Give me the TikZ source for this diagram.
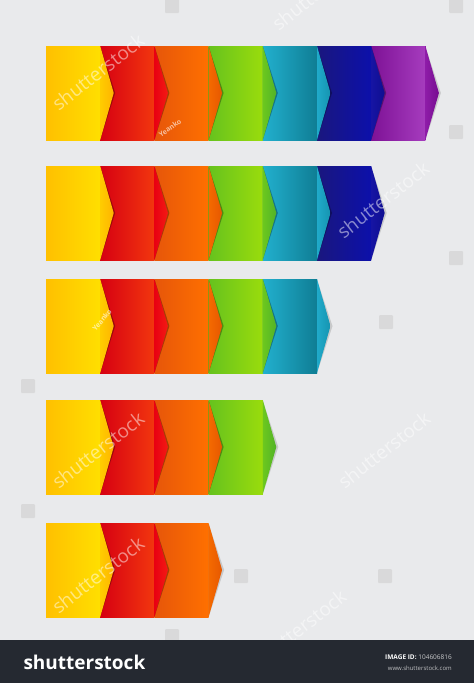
\documentclass[tikz,border=0pt]{standalone}
\usepackage{fontspec}
\setmainfont{Open Sans}
\definecolor{bg}{HTML}{E9EAEC}
\definecolor{foot}{HTML}{252931}
\definecolor{c1L}{HTML}{FFC000}\definecolor{c1R}{HTML}{FFDF00}\definecolor{c1A}{HTML}{FFCC00}\definecolor{c1B}{HTML}{FFB400}
\definecolor{c2L}{HTML}{D60012}\definecolor{c2R}{HTML}{F2360E}\definecolor{c2A}{HTML}{E80012}\definecolor{c2B}{HTML}{F51A14}
\definecolor{c3L}{HTML}{E6560A}\definecolor{c3R}{HTML}{FF7000}\definecolor{c3A}{HTML}{F56A00}\definecolor{c3B}{HTML}{E65800}
\definecolor{c4L}{HTML}{66C21E}\definecolor{c4R}{HTML}{9ADC0C}\definecolor{c4A}{HTML}{6CC81E}\definecolor{c4B}{HTML}{52B228}
\definecolor{c5L}{HTML}{22B0CE}\definecolor{c5R}{HTML}{0F7D94}\definecolor{c5A}{HTML}{20AACA}\definecolor{c5B}{HTML}{1594B0}
\definecolor{c6L}{HTML}{1A177E}\definecolor{c6R}{HTML}{0C10AA}\definecolor{c6A}{HTML}{1614A4}\definecolor{c6B}{HTML}{0E0E90}
\definecolor{c7L}{HTML}{7E1296}\definecolor{c7R}{HTML}{A63CBE}\definecolor{c7A}{HTML}{8E1CA8}\definecolor{c7B}{HTML}{760C90}
\tikzset{
  wmark/.style={text=white, opacity=.5, rotate=38, font=\fontsize{19}{19}\selectfont},
  wsmall/.style={text=white, opacity=.6, rotate=35, font=\bfseries\fontsize{7}{7}\selectfont},
  icon/.style={fill=gray!45, opacity=.45, rounded corners=1pt},
}
\begin{document}
\begin{tikzpicture}[x=1pt,y=-1pt]
\fill[bg] (0,0) rectangle (474,683);
\useasboundingbox (0,0) rectangle (474,683);
% icons on background
\foreach \ix/\iy in {172/6,456/6,456/132,456/258,386/322,28/386,28/511,241/576,385/576,172/636}
  \fill[icon] (\ix-7,\iy-7) rectangle (\ix+7,\iy+7);
% rows
\foreach \ty/\n in {46/7,166/6,279/5,400/4,523/3}{
  \foreach \i in {1,...,\n}{
    \pgfmathsetmacro{\xa}{46+54.2*(\i-1)}
    \pgfmathsetmacro{\xb}{46+54.2*\i}
    \shade[left color=c\i L, right color=c\i R] (\xa,\ty) rectangle (\xb,\ty+94);
  }
  \foreach \i in {1,...,\n}{
    \pgfmathsetmacro{\xb}{46+54.2*\i}
    \ifnum\i=\n
      \fill[black!45, opacity=.35] (\xb,\ty+1) -- (\xb+15.5,\ty+47) -- (\xb,\ty+94);
    \else
      \fill[black, opacity=.3] (\xb,\ty) -- (\xb+15,\ty+47) -- (\xb,\ty+94);
    \fi
    \shade[left color=c\i A, right color=c\i B] (\xb,\ty) -- (\xb+13.5,\ty+47) -- (\xb,\ty+94) -- cycle;
  }
}
% watermarks
\node[wmark] (wm1) at (98,72) {shutterstock};
\node[wmark] (wm2) at (383,200) {shutterstock};
\node[wmark] (wm3) at (98,450) {shutterstock};
\node[wmark] (wm4) at (384,450) {shutterstock};
\node[wmark] (wm5) at (98,575) {shutterstock};
\node[wmark] (wm6) at (318,-8) {shutterstock};
\node[wmark] (wm7) at (300,628) {shutterstock};
\node[wsmall] (ws1) at (170,128) {Yeanko};
\node[wsmall, rotate=15] (ws2) at (102,320) {Yeanko};
% footer
\fill[foot] (0,640) rectangle (474,683);
\node[anchor=west, text=white, font=\bfseries\fontsize{19}{19}\selectfont] (logo) at (20,662) {shutterstock};
\node[anchor=east, text=white, font=\fontsize{6.5}{7}\selectfont, inner sep=0pt] (imgid) at (452,657) {\textbf{IMAGE ID:} \textcolor{white!75!foot}{104606816}};
\node[anchor=east, text=white!70!foot, font=\fontsize{6}{7}\selectfont, inner sep=0pt] (url) at (452,668) {www.shutterstock.com};
\end{tikzpicture}
\end{document}
